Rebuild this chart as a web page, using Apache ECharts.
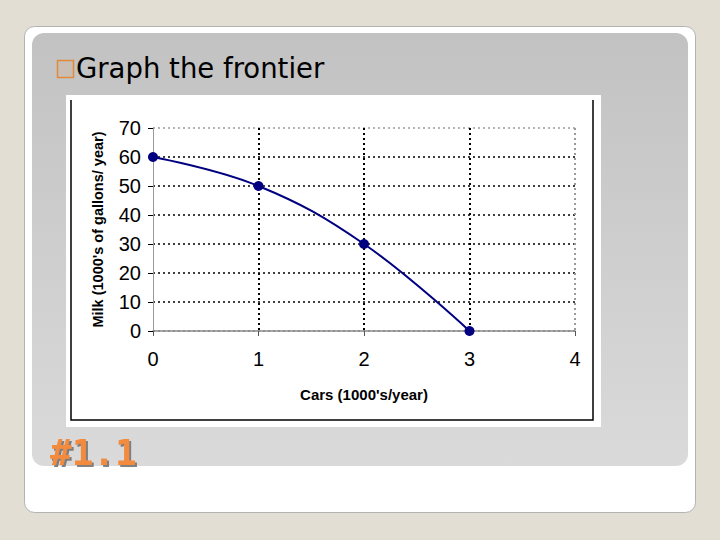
<!DOCTYPE html>
<html>
<head>
<meta charset="utf-8">
<script src="https://cdn.jsdelivr.net/npm/echarts@6/dist/echarts.min.js"></script>
<style>
html,body{margin:0;padding:0;background:#e3ded4;}
#chart{width:720px;height:540px;}
</style>
</head>
<body>
<div id="chart"></div>
<script>
// Data
var carsThousands = [0, 1, 2, 3];
var milkThousands = [60, 50, 30, 0];
var xTicks = [0, 1, 2, 3, 4];
var yTicks = [0, 10, 20, 30, 40, 50, 60, 70];
var slideTitle = 'Graph the frontier';
var slideTag = '#1.1';
var xTitle = "Cars (1000's/year)";
var yTitle = "Milk (1000's of gallons/ year)";

var points = carsThousands.map(function (c, i) { return [c, milkThousands[i]]; });

var chart = echarts.init(document.getElementById('chart'), null, {renderer: 'svg'});

function txt(x, y, text, font, fill, z, extra) {
  var st = {text: text, font: font, fill: fill,
      textAlign: 'left', textVerticalAlign: 'middle', align: 'left', verticalAlign: 'middle'};
  if (extra) { for (var k in extra) st[k] = extra[k]; }
  return {type: 'text', x: x, y: y, z: z, silent: true, style: st};
}

var option = {
  backgroundColor: '#e3ded4',
  animation: false,
  graphic: {
    elements: [
      {type: 'rect', z: -20, silent: true,
        shape: {x: 24.5, y: 26.5, width: 671, height: 486, r: 10},
        style: {fill: '#ffffff', stroke: '#b3b3b3', lineWidth: 1}},
      {type: 'rect', z: -19, silent: true,
        shape: {x: 32, y: 33, width: 656, height: 433, r: 12},
        style: {fill: new echarts.graphic.LinearGradient(0, 0, 0, 1, [
          {offset: 0, color: '#c2c2c2'}, {offset: 1, color: '#dadada'}])}},
      {type: 'rect', z: -18, silent: true,
        shape: {x: 66, y: 95, width: 535, height: 332},
        style: {fill: '#ffffff'}},
      {type: 'polyline', z: -17, silent: true,
        shape: {points: [[71, 100], [71, 420], [593, 420], [593, 100]]},
        style: {stroke: '#000000', lineWidth: 1.5, fill: null}},
      {type: 'rect', z: -16, silent: true,
        shape: {x: 57.5, y: 60.5, width: 16, height: 17},
        style: {fill: 'rgba(235,150,80,0.12)', stroke: '#e08a3e', lineWidth: 1.5}},
      txt(76, 68, slideTitle, '27.5px "DejaVu Sans"', '#000000', -15),
      txt(50, 452, slideTag, 'bold 36px "DejaVu Sans Mono"', '#f28b3c', -14,
        {textShadowColor: 'rgba(110,110,110,0.85)', textShadowBlur: 1, textShadowOffsetX: 2, textShadowOffsetY: 2})
    ]
  },
  grid: {left: 153, right: 145, top: 128, bottom: 209, containLabel: false},
  xAxis: {
    type: 'value', min: xTicks[0], max: xTicks[xTicks.length - 1], interval: 1,
    name: xTitle, nameLocation: 'middle', nameGap: 56,
    nameTextStyle: {fontFamily: '"Liberation Sans", Arial', fontWeight: 'bold', fontSize: 15, color: '#000'},
    axisLine: {show: true, lineStyle: {color: '#888888', width: 1.5}},
    axisTick: {show: true, length: 5, lineStyle: {color: '#555555'}},
    axisLabel: {fontFamily: '"Liberation Sans", Arial', fontSize: 20, color: '#000', margin: 18},
    splitLine: {show: true, lineStyle: {
      color: ['rgba(0,0,0,0)', '#000', '#000', '#000', '#9a9a9a'], width: 2, type: [2, 3]}}
  },
  yAxis: {
    type: 'value', min: yTicks[0], max: yTicks[yTicks.length - 1], interval: 10,
    name: yTitle, nameLocation: 'middle', nameGap: 48, nameRotate: 90,
    nameTextStyle: {fontFamily: '"Liberation Sans", Arial', fontWeight: 'bold', fontSize: 14.5, color: '#000'},
    axisLine: {show: true, lineStyle: {color: '#999999', width: 1}},
    axisTick: {show: true, length: 5, lineStyle: {color: '#000'}},
    axisLabel: {fontFamily: '"Liberation Sans", Arial', fontSize: 20, color: '#000', margin: 12},
    splitLine: {show: true, lineStyle: {
      color: ['#888', '#000', '#000', '#000', '#000', '#000', '#000', '#9a9a9a'], width: 1.5, type: [2, 3]}}
  },
  series: [{
    type: 'line', data: points, smooth: 0.4, z: 5,
    symbol: 'circle', symbolSize: 10,
    itemStyle: {color: '#000080'},
    lineStyle: {color: '#000080', width: 2}
  }]
};
chart.setOption(option);
</script>
</body>
</html>
